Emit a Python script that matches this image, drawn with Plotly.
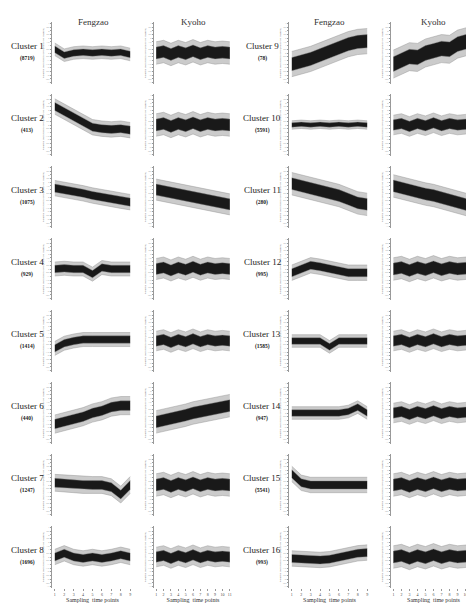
import plotly.graph_objects as go

counts = [8719, 413, 1075, 929, 1414, 440, 1247, 1696, 78, 5591, 280, 995, 1585, 947, 5541, 993]
kflat = [0, 0.2, -0.2, 0.2, -0.1, 0.3, -0.1, 0.2, 0, 0.1, 0]
feng_mean = [
    [0.5, -0.3, 0, 0.1, 0, 0.1, 0, 0.1, -0.2],
    [2.5, 1.8, 1, 0.3, -0.3, -0.5, -0.6, -0.5, -0.7],
    [1.2, 1, 0.8, 0.5, 0.2, 0, -0.3, -0.5, -0.7],
    [0, 0.1, 0, 0, -0.7, 0.2, 0, 0, 0],
    [-1, -0.3, 0, 0.2, 0.2, 0.2, 0.2, 0.2, 0.2],
    [-1.5, -1.2, -0.8, -0.5, 0, 0.3, 0.8, 1, 1],
    [0.3, 0.2, 0.1, 0, 0, 0, -0.3, -1.3, 0],
    [0, 0.5, 0, -0.2, 0, -0.2, 0, 0.3, 0],
    [-1.5, -1.2, -0.8, -0.3, 0.2, 0.8, 1.2, 1.5, 1.6],
    [0, 0.1, 0, 0.1, 0, 0.1, 0, 0.1, 0],
    [1.8, 1.5, 1.2, 0.8, 0.5, 0.2, -0.3, -0.8, -1],
    [-0.5, 0, 0.5, 0.3, 0, -0.2, -0.5, -0.5, -0.5],
    [0, 0, 0, 0, -0.8, 0, 0, 0, 0],
    [0, 0, 0, 0, 0, 0, 0.2, 0.8, 0],
    [1.5, 0.3, 0, 0, 0, 0, 0, 0, 0],
    [-0.2, -0.3, -0.4, -0.4, -0.3, 0, 0.3, 0.5, 0.6],
]
kyoho_mean = [kflat, kflat,
    [1, 0.8, 0.6, 0.4, 0.2, 0, -0.2, -0.4, -0.6, -0.8, -1],
    kflat, kflat,
    [-1.2, -1, -0.8, -0.5, -0.3, 0, 0.2, 0.4, 0.6, 0.8, 1],
    kflat, kflat,
    [-1.5, -1, -0.5, -0.6, 0, 0.3, 0.6, 0.5, 1.2, 1.5, 1.8],
    kflat,
    [1.5, 1.2, 0.9, 0.6, 0.4, 0.2, -0.1, -0.4, -0.7, -1, -1.3],
    kflat, kflat, kflat, kflat, kflat]
feng_spread = [0.45, 0.55, 0.55, 0.5, 0.5, 0.65, 0.6, 0.55, 0.9, 0.3, 0.8, 0.55, 0.45, 0.45, 0.55, 0.55]
kyoho_spread = [0.8, 0.8, 0.75, 0.75, 0.7, 0.8, 0.8, 0.7, 1.0, 0.7, 0.8, 0.8, 0.7, 0.7, 0.8, 0.8]

W, H = 474, 605
fig = go.Figure()
layout = {"annotations": []}
xcols = [[(44, 125), (146, 224)], [(281, 362), (383, 468)]]
serif = "Liberation Serif"
n = 0
for c in range(16):
    col = c // 8
    row = c % 8
    top = 14 + row * 72
    ydom = [1 - (top + 62) / H, 1 - top / H]
    for j, (means, spreads) in enumerate([(feng_mean, feng_spread), (kyoho_mean, kyoho_spread)]):
        n += 1
        m = means[c]
        s = spreads[c]
        xs = list(range(1, len(m) + 1))
        xa = "x" if n == 1 else f"x{n}"
        ya = "y" if n == 1 else f"y{n}"
        for k, colr in [(1.9, "rgba(140,140,140,0.45)"), (1.0, "rgba(10,10,10,0.92)")]:
            fig.add_trace(go.Scatter(x=xs, y=[v + s * k for v in m], xaxis=xa, yaxis=ya,
                                     mode="lines", line=dict(width=0.4, color="#888"), showlegend=False))
            fig.add_trace(go.Scatter(x=xs, y=[v - s * k for v in m], xaxis=xa, yaxis=ya,
                                     mode="lines", line=dict(width=0.4, color="#888"), fill="tonexty",
                                     fillcolor=colr, showlegend=False))
        x0, x1 = xcols[col][j]
        last = row == 7
        layout["xaxis" if n == 1 else f"xaxis{n}"] = dict(
            domain=[x0 / W, x1 / W], anchor=ya, range=[0.7, len(m) + 0.3],
            showgrid=False, zeroline=False, showline=False, tickmode="array", tickvals=xs,
            showticklabels=last, tickfont=dict(size=4, family=serif, color="#444"),
            ticks="outside" if last else "", ticklen=2, tickcolor="#999",
            title=dict(text="Sampling  time points", font=dict(size=6, family=serif, color="#333"), standoff=1) if last else None)
        layout["yaxis" if n == 1 else f"yaxis{n}"] = dict(
            domain=ydom, anchor=xa, range=[-4.2, 4.2], showgrid=False, zeroline=False,
            showline=True, linecolor="#999", linewidth=0.5, ticks="outside", ticklen=1.5,
            tickcolor="#999", dtick=0.5, showticklabels=True, tickfont=dict(size=2, color="#888"),
            title=dict(text="Relative expression level (log2 fold change)", font=dict(size=2.5, color="#666"), standoff=1))
    lx = (19 if col == 0 else 254) / W
    ann_y = 1 - (top + 31) / H
    layout["annotations"].extend([
        dict(x=lx, y=ann_y, xref="paper", yref="paper", text=f"Cluster {c + 1}", showarrow=False,
             xanchor="center", font=dict(size=9, family=serif, color="#222222"), yanchor="bottom"),
        dict(x=lx, y=ann_y, xref="paper", yref="paper", text=f"<b>({counts[c]})</b>", showarrow=False,
             xanchor="center", font=dict(size=5.5, family=serif, color="#222222"), yanchor="top"),
    ])
for tx, t in [(85, "Fengzao"), (185, "Kyoho"), (321, "Fengzao"), (425, "Kyoho")]:
    layout["annotations"].append(dict(x=tx / W, y=1 - 7 / H, xref="paper", yref="paper", text=t,
                                      xanchor="center", showarrow=False,
                                      font=dict(size=9, family=serif, color="#333333")))
fig.update_layout(**layout)
fig.update_layout(width=W, height=H, margin=dict(l=0, r=0, t=0, b=0),
                  paper_bgcolor="white", plot_bgcolor="white")
fig.write_html("out.html")
